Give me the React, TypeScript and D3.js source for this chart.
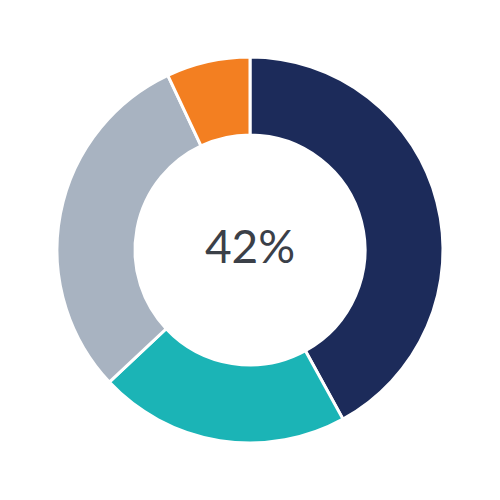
import { useEffect, useRef } from "react";
import * as d3 from "d3";

// Chart data
const categories = ["Navy", "Teal", "Gray", "Orange"];
const values = [42, 21, 30, 7];
const colors = ["#1c2b5a", "#1bb4b6", "#a8b3c1", "#f37f21"];
const centerLabel = "42%";

export default function App(): JSX.Element {
    const width = 500;
    const height = 500;
    const svgRef = useRef<SVGSVGElement>(null);

    useEffect(() => {
        const svg = d3.select(svgRef.current);
        svg.selectAll("*").remove();

        const outerRadius = 193;
        const innerRadius = 115;

        const pie = d3.pie<number>().sort(null).value(d => d);
        const arc = d3.arc<d3.PieArcDatum<number>>()
            .innerRadius(innerRadius)
            .outerRadius(outerRadius);

        const g = svg.append("g")
            .attr("transform", `translate(${width / 2},${height / 2})`);

        g.selectAll("path")
            .data(pie(values))
            .enter().append("path")
            .attr("d", arc)
            .attr("fill", (_d, i) => colors[i])
            .attr("stroke", "#ffffff")
            .attr("stroke-width", 3)
            .append("title")
            .text((_d, i) => categories[i]);

        g.append("text")
            .attr("x", 0)
            .attr("y", 13)
            .attr("text-anchor", "middle")
            .attr("font-family", "Lato, 'Open Sans', sans-serif")
            .attr("font-size", 46)
            .attr("fill", "#3b4048")
            .text(centerLabel);
    }, []);

    return (
        <svg
            ref={svgRef}
            width={width}
            height={height}
            style={{ position: "absolute", left: 0, top: 0, background: "#ffffff" }}
        />
    );
}
